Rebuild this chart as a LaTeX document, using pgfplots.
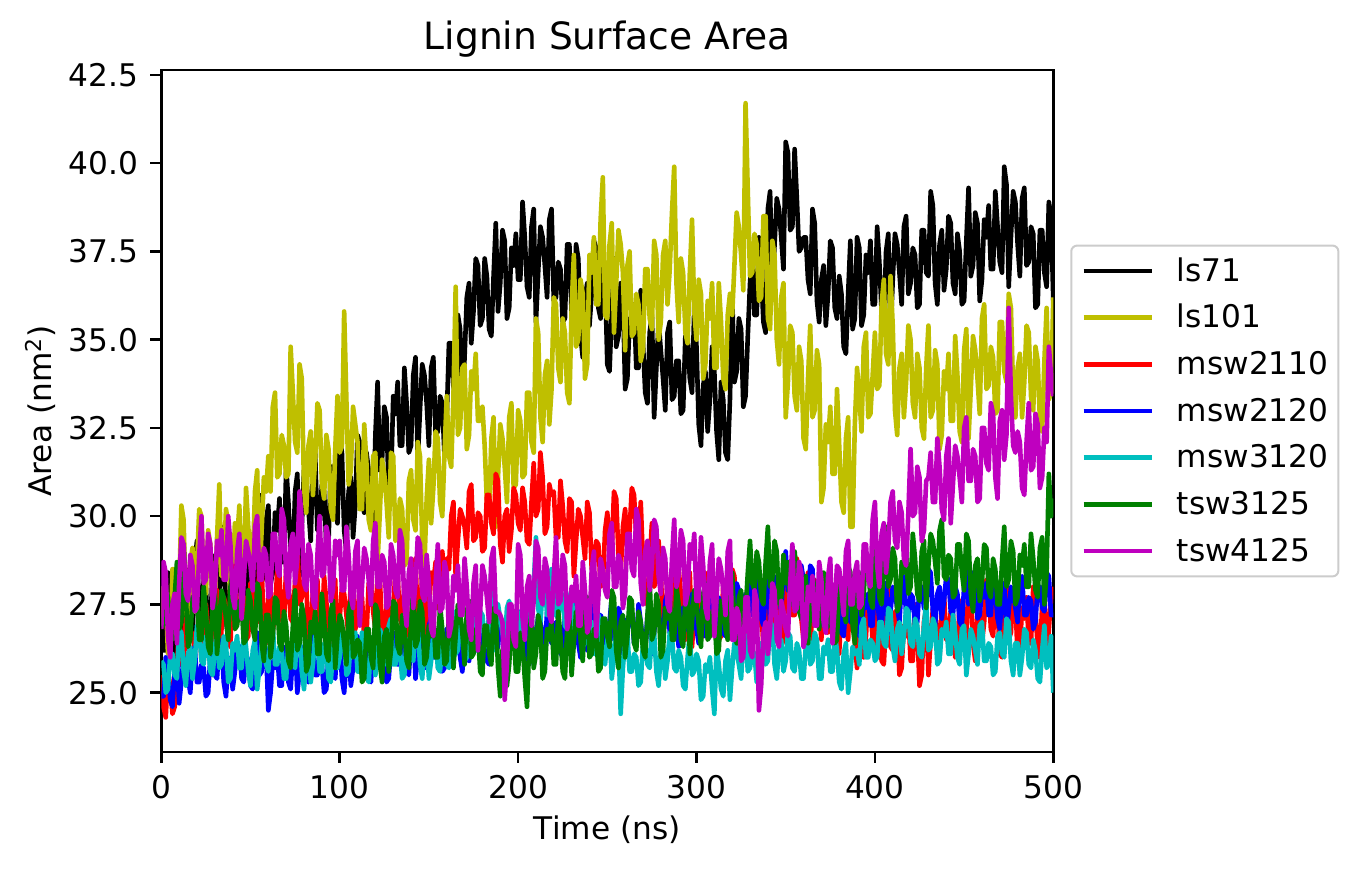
\documentclass[border=0pt]{standalone}
\usepackage{pgfplots}
\pgfplotsset{compat=1.18}
\usepackage{pgfplotstable}
\usepackage{fontspec}
\setmainfont{DejaVu Sans}
\definecolor{mplk}{rgb}{0,0,0}
\definecolor{mply}{rgb}{0.75,0.75,0}
\definecolor{mplr}{rgb}{1,0,0}
\definecolor{mplb}{rgb}{0,0,1}
\definecolor{mplc}{rgb}{0,0.75,0.75}
\definecolor{mplg}{rgb}{0,0.5,0}
\definecolor{mplm}{rgb}{0.75,0,0.75}
\newcommand\tf{\fontsize{15.6}{18.7}\selectfont}
\newcommand\ttl{\fontsize{18.8}{22.5}\selectfont}

% samples every 1.25 ns, t = 0 ... 500
% ls71
\pgfplotstableread[row sep=\\]{y\\
28.0\\26.2\\26.2\\28.4\\27.4\\26.0\\25.7\\27.7\\28.7\\25.8\\27.2\\28.5\\28.2\\27.4\\26.5\\28.7\\29.3\\27.1\\27.2\\28.2\\
28.0\\26.5\\26.6\\28.7\\28.9\\27.7\\27.3\\29.7\\29.3\\27.1\\26.5\\28.2\\28.9\\27.2\\28.1\\29.6\\29.4\\27.7\\27.4\\29.1\\
29.1\\27.6\\27.4\\29.1\\30.6\\28.1\\28.4\\29.9\\30.3\\28.1\\28.4\\30.1\\29.6\\30.5\\28.7\\28.7\\31.4\\30.4\\29.0\\28.7\\
30.7\\31.2\\28.3\\29.7\\31.3\\31.0\\30.2\\29.3\\31.5\\31.8\\29.6\\29.7\\30.9\\30.7\\29.2\\29.3\\31.4\\31.4\\30.2\\29.8\\
32.2\\31.8\\29.6\\29.0\\30.7\\31.1\\29.4\\30.3\\32.3\\32.1\\30.4\\30.1\\31.8\\31.3\\29.8\\29.6\\32.3\\33.8\\31.3\\31.6\\
33.1\\32.8\\30.6\\30.9\\33.4\\32.9\\33.8\\32.0\\32.0\\34.2\\33.2\\31.8\\32.0\\34.0\\34.5\\31.6\\33.0\\34.3\\34.0\\33.2\\
32.0\\34.2\\34.5\\32.3\\32.4\\33.4\\33.2\\31.7\\32.8\\34.9\\34.9\\33.7\\33.3\\35.7\\35.3\\33.1\\34.5\\36.2\\36.6\\34.9\\
35.8\\37.3\\37.1\\35.4\\35.6\\37.3\\36.8\\35.3\\35.1\\36.8\\38.3\\35.8\\36.6\\38.1\\37.8\\35.6\\35.9\\37.6\\37.1\\38.0\\
36.7\\36.7\\38.9\\37.9\\36.5\\36.2\\38.2\\38.7\\35.5\\36.9\\38.2\\37.9\\37.1\\36.2\\38.4\\38.7\\36.1\\36.2\\37.2\\37.0\\
35.5\\35.6\\37.7\\37.7\\35.7\\35.3\\37.7\\37.3\\35.1\\34.5\\36.2\\36.6\\35.4\\36.3\\37.8\\37.6\\35.9\\35.6\\37.3\\36.8\\
34.3\\34.1\\35.8\\37.3\\34.8\\35.1\\36.6\\36.3\\33.6\\33.9\\35.6\\35.1\\36.0\\34.2\\34.2\\36.4\\34.9\\33.5\\33.2\\35.2\\
35.7\\32.8\\34.2\\35.5\\34.7\\33.9\\33.0\\35.2\\35.5\\33.3\\33.4\\34.4\\34.4\\32.9\\33.0\\35.1\\35.1\\33.9\\33.5\\35.9\\
34.8\\32.6\\32.0\\33.7\\34.1\\32.4\\33.3\\34.8\\34.1\\32.4\\31.6\\33.8\\33.3\\31.8\\31.6\\33.3\\36.3\\33.8\\34.1\\35.6\\
35.3\\33.1\\33.4\\35.1\\36.6\\37.5\\35.7\\35.7\\37.9\\36.9\\35.5\\35.2\\38.7\\39.2\\36.3\\37.7\\39.0\\38.7\\37.9\\37.0\\
40.6\\40.3\\38.1\\38.2\\40.4\\39.0\\37.5\\37.6\\37.9\\37.9\\36.7\\36.3\\38.7\\38.3\\36.1\\35.5\\36.7\\37.1\\35.4\\36.3\\
37.8\\37.6\\35.9\\35.6\\36.8\\36.3\\34.8\\34.6\\36.3\\37.8\\35.3\\35.6\\37.9\\37.6\\35.4\\35.7\\37.4\\36.9\\37.8\\36.0\\
36.0\\38.2\\37.2\\35.8\\35.5\\37.5\\38.0\\35.1\\36.7\\38.0\\37.7\\36.9\\36.0\\38.2\\38.5\\36.3\\36.6\\37.6\\37.4\\35.9\\
36.0\\38.1\\38.1\\36.9\\36.8\\39.2\\38.8\\36.6\\36.0\\37.7\\38.1\\36.4\\37.0\\38.5\\38.3\\36.6\\36.3\\38.0\\37.5\\36.0\\
36.1\\37.8\\39.3\\36.8\\37.1\\38.6\\38.3\\36.1\\36.7\\38.4\\37.9\\38.8\\37.0\\37.0\\39.2\\38.2\\37.2\\36.9\\39.9\\39.4\\
36.5\\37.9\\39.2\\38.9\\37.7\\36.8\\39.0\\39.3\\37.1\\37.2\\38.2\\38.0\\35.9\\36.0\\38.1\\38.1\\36.9\\36.5\\38.9\\38.5\\
36.1\\}\tblk

% ls101
\pgfplotstableread[row sep=\\]{y\\
26.9\\28.0\\27.7\\26.1\\26.2\\28.5\\28.5\\27.1\\27.8\\30.3\\29.9\\27.5\\26.8\\28.7\\29.1\\27.3\\28.6\\30.2\\30.0\\28.2\\
27.8\\29.6\\29.2\\27.5\\27.4\\29.4\\30.9\\28.3\\28.5\\30.2\\29.8\\27.4\\28.0\\29.8\\29.3\\30.3\\28.4\\28.4\\30.8\\29.7\\
28.9\\28.6\\30.7\\31.3\\28.2\\29.6\\31.1\\30.7\\31.7\\30.7\\33.1\\33.5\\31.1\\31.2\\32.3\\32.0\\31.1\\31.2\\34.8\\33.5\\
32.1\\31.8\\34.3\\33.9\\30.8\\30.1\\32.0\\32.4\\30.6\\31.6\\33.2\\33.0\\30.9\\30.5\\32.3\\31.9\\30.2\\29.9\\31.9\\33.4\\
31.8\\32.0\\35.8\\33.3\\30.9\\31.3\\33.1\\32.6\\32.1\\30.2\\30.2\\32.6\\31.5\\29.9\\29.6\\31.7\\31.8\\28.7\\30.1\\31.6\\
31.2\\30.4\\29.4\\31.8\\31.7\\29.3\\29.4\\30.5\\30.2\\28.6\\28.7\\31.0\\31.3\\29.9\\29.6\\32.1\\31.7\\29.3\\28.6\\30.5\\
31.6\\29.8\\30.8\\32.4\\32.2\\30.4\\30.0\\31.8\\33.4\\31.7\\31.4\\33.4\\36.5\\32.3\\32.5\\34.2\\34.3\\31.9\\32.3\\34.1\\
33.6\\34.6\\32.7\\32.7\\33.1\\32.0\\30.4\\30.1\\32.2\\32.8\\29.7\\31.1\\32.6\\32.2\\31.4\\30.4\\32.8\\33.2\\30.8\\30.9\\
33.0\\32.7\\31.1\\31.2\\33.5\\33.5\\32.1\\31.8\\35.6\\35.2\\32.8\\32.1\\34.0\\34.4\\32.6\\33.6\\36.2\\36.0\\34.2\\33.8\\
35.6\\35.2\\33.5\\33.2\\35.9\\37.4\\34.8\\35.0\\36.7\\36.3\\33.9\\34.3\\37.4\\36.9\\37.9\\36.0\\36.0\\38.4\\39.6\\35.7\\
35.6\\37.7\\38.3\\35.2\\36.6\\38.1\\37.7\\36.9\\34.7\\37.1\\37.5\\35.1\\35.2\\36.3\\36.0\\34.4\\34.7\\37.0\\37.0\\35.6\\
35.3\\37.8\\37.4\\35.0\\35.5\\37.4\\37.8\\36.0\\37.0\\38.6\\39.9\\36.6\\35.5\\37.3\\36.9\\35.2\\34.9\\36.9\\38.4\\35.8\\
35.0\\36.7\\36.3\\33.9\\34.3\\36.1\\35.6\\36.6\\34.2\\34.2\\36.6\\35.5\\33.9\\33.6\\35.7\\36.3\\35.7\\37.1\\38.6\\38.2\\
37.4\\36.4\\41.7\\39.2\\36.8\\36.9\\38.0\\37.7\\36.1\\36.2\\38.5\\38.5\\35.6\\35.3\\37.8\\37.4\\35.0\\34.3\\36.2\\36.6\\
32.8\\33.8\\35.4\\35.2\\33.4\\33.0\\34.8\\34.4\\32.2\\31.9\\33.9\\35.4\\32.8\\33.0\\34.7\\34.3\\30.4\\30.8\\32.6\\32.1\\
33.1\\31.2\\31.2\\33.6\\32.0\\30.4\\30.1\\32.2\\32.8\\29.7\\29.7\\32.6\\34.2\\33.4\\32.4\\34.8\\35.2\\32.8\\32.9\\34.0\\
35.2\\33.6\\33.7\\36.0\\36.7\\34.6\\34.3\\36.8\\35.4\\33.0\\32.3\\34.2\\34.6\\32.8\\33.8\\35.4\\35.0\\33.2\\32.8\\34.6\\
34.2\\32.5\\32.2\\34.2\\35.4\\32.8\\33.0\\34.7\\34.3\\31.9\\32.3\\34.1\\33.6\\34.6\\32.7\\32.7\\35.1\\34.0\\32.4\\32.1\\
34.7\\35.3\\32.2\\33.6\\35.1\\34.7\\33.9\\32.9\\35.6\\36.0\\33.6\\33.7\\34.8\\34.5\\32.9\\33.0\\35.5\\35.5\\34.1\\33.8\\
36.3\\35.9\\33.5\\32.8\\34.2\\34.6\\32.8\\33.8\\35.4\\35.2\\33.4\\33.0\\34.8\\34.4\\32.7\\32.4\\34.4\\35.9\\33.3\\33.5\\
36.2\\}\tyel

% msw2110
\pgfplotstableread[row sep=\\]{y\\
25.5\\24.6\\24.3\\25.6\\25.2\\24.4\\24.6\\25.2\\27.6\\25.8\\26.0\\27.1\\26.9\\25.3\\25.5\\26.7\\26.6\\27.2\\25.9\\25.9\\
27.5\\26.8\\25.8\\25.5\\27.5\\27.9\\25.8\\26.8\\27.7\\27.5\\26.9\\26.3\\28.4\\28.6\\27.0\\27.1\\27.8\\27.7\\26.5\\26.6\\
28.1\\28.1\\27.3\\27.0\\28.7\\28.5\\26.9\\26.4\\27.7\\27.9\\26.7\\27.3\\28.5\\28.3\\27.1\\26.9\\28.6\\28.2\\27.1\\27.0\\
28.2\\29.3\\27.5\\27.7\\28.3\\28.1\\26.5\\26.7\\27.9\\27.6\\28.2\\26.9\\26.7\\28.3\\27.6\\26.6\\26.3\\27.8\\28.2\\26.1\\
27.1\\28.0\\27.8\\27.2\\26.6\\28.2\\28.4\\26.8\\27.1\\27.8\\27.7\\26.5\\26.6\\28.1\\28.1\\27.3\\26.8\\28.5\\28.3\\26.7\\
26.2\\27.5\\27.7\\26.5\\27.3\\28.5\\28.3\\27.1\\26.9\\28.1\\27.7\\26.6\\26.5\\27.7\\28.8\\27.0\\27.2\\28.3\\28.1\\26.5\\
27.2\\28.4\\28.1\\28.7\\27.4\\27.4\\29.0\\28.3\\28.8\\28.5\\30.0\\30.4\\28.3\\29.3\\30.2\\30.0\\29.7\\29.1\\30.7\\30.9\\
29.3\\29.4\\30.1\\30.0\\29.0\\29.1\\30.6\\30.6\\29.8\\29.5\\31.2\\31.0\\29.2\\28.7\\30.0\\30.2\\29.0\\29.6\\30.8\\30.6\\
29.8\\29.6\\30.8\\30.4\\29.3\\29.2\\30.4\\31.5\\30.0\\30.2\\31.8\\31.1\\29.5\\29.7\\30.9\\30.6\\30.7\\29.4\\29.4\\31.0\\
30.3\\29.3\\29.0\\30.5\\30.4\\28.3\\29.3\\30.2\\30.0\\29.4\\28.8\\30.4\\30.1\\28.5\\28.6\\29.3\\29.2\\28.0\\28.1\\29.6\\
30.1\\29.3\\29.0\\30.7\\30.5\\28.9\\28.4\\29.7\\30.2\\29.0\\29.6\\30.8\\30.6\\29.4\\29.2\\30.4\\28.7\\27.6\\27.5\\28.7\\
29.8\\28.0\\28.2\\29.3\\28.4\\26.8\\27.0\\28.2\\27.9\\28.5\\27.2\\27.2\\28.5\\27.8\\26.8\\26.5\\28.0\\28.4\\26.3\\27.3\\
28.0\\27.8\\27.2\\26.6\\28.2\\28.4\\26.8\\26.9\\27.8\\27.7\\26.5\\26.6\\28.1\\28.1\\27.3\\27.0\\28.5\\28.3\\26.7\\26.2\\
27.5\\27.7\\26.5\\27.1\\28.2\\28.0\\26.8\\26.6\\27.8\\27.4\\26.3\\26.2\\27.5\\28.6\\26.8\\27.0\\28.1\\27.9\\26.3\\26.5\\
28.2\\27.9\\28.5\\27.2\\27.2\\28.8\\28.1\\27.1\\26.5\\28.0\\28.4\\26.3\\27.3\\28.2\\28.0\\27.4\\26.5\\28.1\\28.3\\26.7\\
26.8\\27.5\\27.4\\26.2\\26.1\\27.6\\27.6\\26.8\\26.5\\28.2\\28.0\\26.4\\25.7\\27.0\\27.2\\26.0\\26.6\\27.8\\27.6\\26.4\\
26.2\\27.4\\27.0\\25.9\\25.8\\27.0\\28.1\\26.3\\26.2\\27.3\\27.1\\25.5\\25.7\\26.9\\26.6\\27.2\\25.9\\25.9\\27.5\\26.8\\
25.2\\25.5\\27.0\\27.4\\25.5\\26.5\\27.4\\27.2\\26.6\\26.0\\27.6\\27.8\\26.5\\26.6\\27.3\\27.2\\26.0\\26.1\\27.6\\27.6\\
26.8\\26.5\\28.2\\28.0\\26.4\\25.9\\27.2\\27.4\\26.4\\27.0\\28.2\\28.0\\26.8\\26.6\\27.8\\27.4\\26.1\\26.0\\27.2\\28.3\\
26.5\\26.7\\27.8\\27.6\\26.0\\26.2\\27.4\\27.1\\27.7\\26.4\\26.4\\28.0\\27.3\\26.3\\26.0\\27.5\\27.9\\25.8\\26.8\\27.7\\
28.0\\}\tred

% msw2120
\pgfplotstableread[row sep=\\]{y\\
24.9\\24.9\\26.0\\25.5\\24.8\\24.6\\25.6\\25.9\\24.7\\25.3\\26.0\\25.8\\25.4\\25.0\\26.1\\26.3\\25.3\\25.3\\25.8\\25.7\\
24.9\\25.0\\26.0\\26.0\\25.5\\25.4\\26.5\\26.4\\25.3\\24.9\\25.8\\26.0\\25.1\\25.6\\26.4\\26.3\\25.4\\25.3\\26.1\\25.9\\
25.2\\25.1\\26.0\\26.7\\25.5\\25.6\\26.4\\26.2\\24.5\\25.0\\25.9\\25.7\\26.1\\25.2\\25.2\\26.3\\26.0\\25.3\\25.1\\26.1\\
26.4\\25.0\\25.6\\26.3\\26.1\\25.7\\25.3\\26.4\\26.6\\25.5\\25.5\\26.0\\25.8\\25.0\\25.1\\26.1\\26.1\\25.5\\25.4\\26.5\\
26.5\\25.4\\25.0\\25.9\\26.1\\25.2\\25.7\\26.5\\26.6\\25.7\\25.6\\26.4\\26.2\\25.4\\25.3\\26.2\\26.9\\25.7\\25.8\\26.6\\
26.4\\25.3\\25.4\\26.3\\26.3\\26.7\\25.8\\25.8\\26.9\\26.4\\25.7\\25.5\\26.5\\26.8\\25.4\\26.0\\26.7\\26.5\\26.1\\25.7\\
26.9\\27.1\\26.0\\26.0\\26.5\\26.4\\25.6\\25.7\\26.8\\26.8\\26.2\\26.1\\27.2\\27.1\\26.0\\25.6\\26.6\\26.8\\25.9\\26.4\\
27.2\\27.1\\26.2\\26.1\\26.9\\26.7\\25.9\\25.8\\26.7\\27.4\\26.2\\26.3\\27.1\\26.9\\25.8\\25.9\\26.8\\26.6\\27.0\\26.1\\
26.2\\27.3\\26.8\\26.1\\25.9\\26.9\\27.2\\25.8\\26.5\\27.2\\27.0\\26.6\\26.2\\27.3\\27.5\\26.4\\26.5\\27.0\\26.9\\26.1\\
26.2\\27.2\\27.2\\26.6\\26.5\\27.6\\27.5\\26.4\\26.0\\26.9\\27.1\\26.2\\26.7\\27.5\\27.4\\26.5\\26.4\\27.2\\27.0\\26.2\\
26.1\\27.0\\27.7\\26.5\\26.6\\27.4\\27.2\\26.1\\26.2\\27.1\\26.9\\27.3\\26.4\\26.4\\27.5\\27.0\\26.4\\26.2\\27.2\\27.5\\
26.1\\26.7\\27.4\\27.2\\26.9\\26.5\\27.6\\27.8\\26.7\\26.7\\27.2\\27.1\\26.3\\26.4\\27.4\\27.4\\26.8\\26.7\\27.8\\27.7\\
26.8\\26.4\\27.3\\27.5\\26.6\\27.1\\27.9\\27.8\\27.0\\26.9\\27.7\\27.5\\26.7\\26.6\\27.5\\28.2\\27.2\\27.3\\28.1\\27.9\\
26.8\\26.9\\27.8\\27.6\\28.1\\27.2\\27.2\\28.3\\27.8\\27.1\\26.9\\27.9\\28.4\\27.0\\27.6\\28.3\\28.1\\27.7\\27.3\\28.4\\
29.0\\27.9\\27.9\\28.4\\28.3\\27.5\\27.6\\28.6\\28.2\\27.6\\27.5\\28.6\\28.5\\27.4\\27.0\\27.9\\27.8\\26.9\\27.4\\28.2\\
28.1\\27.2\\27.1\\27.9\\27.5\\26.7\\26.6\\27.5\\28.2\\27.0\\27.1\\27.9\\27.7\\26.6\\26.7\\27.6\\27.4\\27.8\\26.9\\26.9\\
28.2\\27.7\\27.0\\26.8\\27.8\\28.1\\26.7\\27.3\\28.0\\27.8\\27.4\\27.0\\28.1\\28.3\\27.2\\27.2\\27.8\\27.7\\26.9\\27.0\\
28.0\\28.0\\27.4\\27.3\\28.5\\28.4\\27.3\\26.9\\27.8\\28.0\\27.1\\27.6\\28.3\\28.2\\27.3\\27.2\\28.0\\27.8\\27.0\\26.9\\
28.0\\28.7\\27.5\\27.6\\28.4\\28.2\\27.1\\27.2\\27.9\\27.7\\28.1\\27.2\\27.2\\28.3\\27.8\\27.1\\26.8\\27.8\\28.1\\26.7\\
27.3\\28.0\\27.8\\27.4\\27.0\\28.1\\28.3\\27.2\\27.2\\27.7\\27.6\\26.8\\27.0\\28.0\\28.0\\27.4\\27.3\\28.4\\28.3\\27.2\\
27.2\\}\tblu

% msw3120
\pgfplotstableread[row sep=\\]{y\\
25.9\\25.8\\25.0\\25.1\\26.1\\26.1\\25.5\\25.4\\26.8\\26.7\\25.6\\25.2\\26.1\\26.3\\25.4\\25.9\\26.9\\26.8\\25.9\\25.8\\
26.6\\26.4\\25.6\\25.5\\26.2\\26.9\\25.7\\25.8\\26.6\\26.4\\25.3\\25.4\\26.4\\26.2\\26.6\\25.7\\25.7\\26.8\\26.3\\25.6\\
25.2\\26.2\\26.5\\25.1\\25.7\\26.4\\26.2\\25.8\\25.6\\26.7\\26.9\\25.8\\25.8\\26.3\\26.2\\25.4\\25.4\\26.4\\26.4\\25.8\\
25.7\\26.8\\26.7\\25.6\\25.1\\26.0\\26.2\\25.3\\25.8\\26.6\\26.5\\25.6\\25.6\\26.4\\26.2\\25.4\\25.3\\26.2\\26.9\\25.7\\
26.0\\26.8\\26.6\\25.5\\25.6\\26.5\\26.3\\26.7\\25.6\\25.6\\26.7\\26.2\\25.5\\25.3\\26.3\\26.6\\25.5\\26.1\\26.8\\26.6\\
26.2\\25.8\\26.9\\27.1\\25.8\\25.8\\26.3\\26.2\\25.4\\25.5\\26.5\\26.5\\26.0\\25.9\\27.0\\26.9\\25.8\\25.4\\26.3\\26.5\\
25.4\\25.9\\26.7\\26.6\\25.7\\25.6\\26.4\\26.2\\25.8\\25.7\\26.6\\27.3\\26.1\\26.2\\27.0\\26.8\\25.9\\26.0\\26.9\\26.7\\
27.1\\26.2\\26.2\\27.3\\27.2\\26.5\\26.3\\27.3\\28.4\\26.2\\26.8\\27.5\\27.1\\26.7\\26.3\\27.4\\27.6\\26.5\\26.5\\27.0\\
27.3\\26.5\\26.6\\27.6\\27.6\\27.0\\26.9\\28.0\\29.4\\27.4\\27.0\\27.9\\28.1\\27.2\\27.7\\28.5\\28.1\\27.2\\27.1\\27.9\\
27.7\\26.9\\26.8\\27.7\\27.9\\26.7\\26.8\\27.6\\27.4\\26.3\\26.4\\27.3\\26.6\\27.0\\26.1\\26.1\\27.2\\26.7\\26.0\\25.8\\
26.5\\26.8\\25.4\\26.0\\26.7\\26.5\\24.4\\25.7\\26.5\\26.7\\25.6\\25.6\\26.1\\26.0\\25.2\\25.3\\26.4\\26.4\\25.8\\25.7\\
26.8\\26.7\\25.6\\25.2\\26.1\\26.3\\25.4\\25.9\\26.7\\26.6\\25.7\\25.6\\26.2\\26.0\\25.2\\25.1\\26.0\\26.7\\25.5\\25.6\\
26.1\\25.9\\24.8\\24.9\\25.8\\25.6\\26.0\\25.1\\24.4\\26.3\\25.8\\25.1\\24.9\\25.9\\26.2\\24.8\\25.7\\26.4\\26.2\\25.8\\
25.4\\26.5\\26.7\\25.6\\25.7\\26.2\\26.1\\25.3\\25.4\\26.4\\26.4\\25.8\\25.9\\27.0\\26.9\\25.8\\25.4\\26.3\\26.5\\25.6\\
25.9\\26.7\\26.6\\25.7\\25.6\\26.4\\26.2\\25.4\\25.4\\26.3\\27.0\\25.8\\25.9\\26.7\\26.5\\25.4\\25.4\\26.3\\26.1\\26.5\\
25.6\\25.6\\26.7\\26.2\\25.3\\25.1\\26.1\\26.4\\25.0\\25.6\\26.3\\26.1\\26.2\\25.8\\26.9\\27.1\\26.0\\26.0\\26.5\\26.4\\
25.9\\26.0\\27.0\\27.0\\26.4\\26.3\\27.4\\27.3\\26.3\\25.9\\26.8\\27.0\\26.1\\26.6\\27.4\\27.3\\26.4\\26.3\\27.1\\26.9\\
26.1\\26.0\\26.9\\27.6\\26.2\\26.3\\27.1\\26.9\\25.8\\25.9\\26.8\\26.6\\27.0\\26.1\\26.1\\27.2\\26.7\\26.0\\25.8\\26.8\\
26.9\\25.5\\26.1\\26.8\\26.6\\26.2\\25.8\\26.9\\27.0\\25.9\\25.9\\26.4\\26.3\\25.5\\25.6\\26.6\\26.7\\26.1\\26.0\\27.1\\
27.0\\25.9\\25.5\\26.4\\26.4\\25.5\\26.0\\26.8\\26.7\\25.8\\25.7\\26.5\\26.2\\25.4\\25.3\\26.2\\26.9\\25.7\\25.8\\26.6\\
25.0\\}\tcya

% tsw3125
\pgfplotstableread[row sep=\\]{y\\
27.1\\26.9\\28.0\\27.7\\26.7\\26.5\\27.7\\28.7\\26.8\\27.0\\29.2\\27.8\\26.3\\26.5\\27.7\\27.4\\27.7\\26.5\\26.5\\28.0\\
27.3\\26.3\\26.1\\27.5\\28.0\\26.1\\27.0\\27.9\\27.7\\27.1\\26.5\\28.0\\28.4\\26.8\\26.9\\27.6\\27.5\\26.4\\26.5\\27.9\\
27.6\\26.8\\26.5\\28.1\\27.9\\26.4\\25.9\\27.2\\27.2\\26.0\\26.6\\27.7\\27.6\\26.4\\26.2\\27.3\\26.9\\25.9\\25.7\\26.9\\
27.9\\26.2\\26.4\\27.5\\27.1\\25.6\\25.8\\27.0\\26.7\\27.3\\26.1\\26.1\\27.8\\27.1\\26.1\\25.9\\27.3\\27.6\\25.7\\26.6\\
27.2\\27.0\\26.4\\25.8\\27.3\\27.6\\26.0\\26.1\\26.5\\26.4\\25.3\\25.4\\26.8\\26.8\\26.0\\25.7\\27.5\\27.3\\25.8\\25.3\\
26.6\\26.8\\25.6\\26.2\\27.6\\27.5\\26.3\\26.1\\27.2\\26.9\\25.9\\25.7\\27.0\\28.0\\26.3\\26.5\\27.6\\27.3\\25.8\\26.0\\
26.9\\26.6\\27.2\\26.0\\26.0\\27.5\\26.8\\25.8\\25.9\\27.3\\27.6\\25.7\\26.6\\27.5\\27.3\\26.7\\25.8\\27.3\\27.6\\26.0\\
26.1\\26.8\\26.7\\25.6\\25.5\\26.9\\26.9\\26.1\\25.8\\27.4\\27.2\\25.7\\24.9\\26.2\\26.4\\25.2\\25.8\\26.9\\26.8\\25.6\\
25.6\\26.7\\26.4\\25.4\\24.6\\26.4\\27.4\\25.7\\26.1\\27.2\\26.9\\25.4\\25.6\\26.8\\26.5\\27.1\\25.8\\25.8\\27.3\\26.6\\
25.6\\25.4\\26.8\\27.1\\25.5\\26.4\\27.3\\27.1\\26.5\\25.9\\27.4\\27.7\\26.0\\26.1\\26.8\\26.7\\25.6\\25.7\\27.1\\27.1\\
26.6\\26.3\\27.9\\27.7\\26.2\\25.7\\27.0\\27.2\\26.0\\26.6\\27.7\\27.6\\26.4\\26.2\\27.3\\27.0\\26.2\\26.0\\27.2\\28.2\\
26.5\\26.7\\27.8\\27.5\\26.0\\26.2\\27.4\\27.1\\27.7\\26.5\\26.5\\28.0\\27.5\\26.5\\26.3\\27.7\\28.0\\26.1\\27.0\\27.9\\
27.5\\26.9\\26.3\\27.8\\28.1\\26.5\\26.6\\27.3\\27.2\\26.1\\26.2\\27.6\\27.6\\26.8\\26.5\\28.1\\28.4\\26.9\\26.4\\27.7\\
27.9\\26.7\\27.3\\28.4\\29.3\\28.1\\27.9\\29.0\\28.7\\27.7\\27.5\\28.7\\29.7\\28.0\\28.2\\29.3\\29.0\\27.5\\27.7\\28.9\\
28.1\\28.7\\27.5\\27.5\\29.0\\28.3\\27.3\\27.1\\28.0\\28.3\\26.4\\27.3\\28.2\\28.0\\27.4\\26.8\\28.1\\28.4\\26.8\\26.9\\
27.6\\27.5\\26.4\\26.5\\28.1\\28.1\\27.3\\27.0\\28.6\\28.4\\26.9\\26.4\\28.2\\28.4\\27.2\\27.8\\28.9\\28.8\\27.6\\27.4\\
29.0\\28.7\\27.7\\27.5\\28.7\\29.7\\28.0\\28.2\\29.1\\28.8\\27.3\\27.5\\28.7\\28.4\\29.0\\27.8\\28.0\\29.5\\28.8\\27.8\\
27.6\\29.0\\29.3\\27.4\\28.6\\29.5\\29.3\\28.7\\28.1\\29.6\\29.9\\28.3\\28.2\\28.9\\28.8\\27.7\\27.8\\29.2\\29.2\\28.4\\
27.9\\29.5\\29.3\\27.8\\27.3\\28.6\\28.8\\27.6\\28.1\\29.2\\29.1\\27.9\\27.7\\28.8\\28.5\\27.5\\27.5\\28.7\\29.7\\28.0\\
28.2\\29.3\\29.0\\27.5\\27.7\\28.9\\28.6\\29.2\\28.0\\28.0\\29.5\\28.8\\27.9\\27.7\\29.1\\29.4\\27.5\\28.4\\31.2\\30.0\\
30.5\\}\tgre

% tsw4125
\pgfplotstableread[row sep=\\]{y\\
26.8\\28.7\\28.4\\26.6\\26.0\\27.5\\27.8\\26.4\\28.1\\29.4\\29.2\\27.8\\27.6\\28.9\\28.6\\27.3\\27.4\\28.9\\30.0\\28.1\\
28.2\\29.5\\29.2\\27.4\\27.9\\29.3\\28.9\\29.6\\28.2\\28.2\\30.0\\29.2\\27.7\\27.4\\29.0\\29.5\\27.1\\28.2\\29.3\\29.0\\
28.6\\27.9\\29.7\\30.0\\28.2\\28.2\\29.1\\28.9\\27.7\\27.8\\29.5\\29.5\\28.5\\28.3\\30.2\\29.9\\28.3\\27.7\\29.2\\29.5\\
28.1\\28.8\\30.7\\29.9\\28.1\\27.9\\29.2\\28.9\\27.6\\27.4\\28.9\\30.0\\28.3\\28.4\\29.7\\29.4\\27.6\\27.9\\29.3\\28.9\\
29.3\\27.9\\27.9\\29.7\\28.9\\27.7\\27.4\\29.0\\29.3\\26.9\\28.0\\29.1\\28.8\\28.2\\27.5\\29.3\\29.8\\28.0\\28.0\\28.9\\
28.7\\27.4\\27.5\\29.2\\28.9\\27.9\\27.7\\29.6\\29.3\\27.5\\26.9\\28.4\\28.8\\27.4\\28.1\\29.4\\29.2\\27.8\\27.6\\28.9\\
28.1\\26.8\\26.6\\28.1\\29.2\\27.3\\27.4\\28.7\\28.4\\26.6\\26.9\\28.3\\27.9\\28.6\\27.2\\27.2\\28.8\\28.0\\26.8\\26.5\\
28.1\\28.6\\26.2\\27.3\\28.6\\28.3\\27.7\\27.0\\28.8\\29.1\\27.3\\27.3\\27.2\\27.0\\24.8\\25.8\\27.5\\27.5\\26.5\\26.3\\
29.2\\28.9\\27.1\\26.5\\28.0\\28.3\\26.9\\27.6\\29.3\\29.1\\27.7\\27.5\\28.8\\28.5\\27.2\\27.0\\28.3\\29.4\\27.5\\27.6\\
28.9\\28.6\\26.8\\27.1\\28.0\\27.6\\28.3\\26.9\\26.9\\28.7\\27.9\\26.7\\26.9\\28.5\\29.0\\26.6\\27.7\\28.8\\28.5\\27.9\\
27.7\\29.5\\29.8\\28.0\\28.0\\28.9\\28.7\\27.4\\27.8\\29.5\\29.5\\28.5\\28.3\\30.2\\29.9\\28.1\\27.5\\29.0\\29.3\\27.9\\
28.6\\29.9\\29.7\\28.3\\27.8\\29.1\\28.8\\27.5\\27.3\\28.8\\29.9\\28.0\\28.3\\29.6\\29.3\\27.5\\27.8\\29.2\\28.8\\29.5\\
27.6\\27.6\\29.4\\28.6\\27.4\\27.1\\28.7\\29.2\\26.6\\27.7\\28.8\\28.5\\27.9\\27.2\\29.0\\29.3\\26.5\\26.5\\27.4\\27.2\\
25.9\\26.0\\27.7\\27.7\\26.2\\26.0\\27.9\\27.6\\24.5\\25.2\\26.7\\27.0\\26.1\\26.8\\28.1\\27.9\\26.5\\26.3\\27.6\\27.3\\
26.8\\26.6\\28.1\\29.2\\27.3\\27.4\\28.7\\28.4\\26.3\\26.6\\28.0\\27.6\\28.3\\26.9\\26.9\\28.7\\28.2\\27.0\\26.7\\28.3\\
28.8\\26.4\\27.5\\28.6\\28.5\\27.9\\27.2\\29.0\\29.3\\27.5\\27.5\\28.4\\28.7\\27.4\\27.5\\29.2\\29.2\\28.2\\28.0\\29.9\\
30.4\\28.6\\28.0\\29.5\\29.8\\28.4\\29.1\\30.4\\30.7\\29.3\\29.1\\30.4\\30.1\\28.8\\28.6\\30.1\\31.9\\30.0\\30.1\\31.4\\
31.1\\29.3\\29.6\\31.0\\31.1\\31.8\\30.4\\30.4\\32.2\\31.4\\30.2\\29.9\\31.7\\32.2\\29.8\\30.9\\32.0\\31.7\\31.1\\30.4\\
32.5\\32.8\\31.0\\31.0\\31.9\\31.7\\30.4\\30.5\\32.5\\32.5\\31.5\\31.3\\33.2\\32.9\\31.1\\30.5\\32.7\\33.0\\31.6\\32.3\\
35.9\\33.4\\32.0\\31.8\\32.4\\32.1\\30.8\\30.6\\32.1\\33.2\\31.3\\31.4\\32.9\\32.6\\30.8\\31.1\\32.5\\32.1\\34.8\\34.0\\
33.4\\}\tmag

\begin{document}
\begin{tikzpicture}
\useasboundingbox (-80.65pt,-59pt) rectangle (598.35pt,376pt);
\begin{axis}[
  at={(0pt,0pt)}, anchor=south west,
  scale only axis, width=446pt, height=341pt,
  xmin=0, xmax=500, ymin=23.32, ymax=42.64,
  xtick={0,100,...,500}, ytick={25,27.5,...,42.5},
  tick pos=left, tick align=outside, major tick length=5.5pt,
  tick style={black, line width=1.25pt},
  axis line style={line width=1.25pt},
  ticklabel style={font=\tf, inner sep=0pt},
  /pgf/number format/assume math mode=true,
  yticklabel style={/pgf/number format/.cd, fixed, fixed zerofill, precision=1},
  xticklabel shift=6pt, yticklabel shift=6pt,
  title={Lignin Surface Area},
  title style={font=\ttl, at={(axis description cs:0.5,1.013)}, anchor=base},
  xlabel={Time (ns)},
  xlabel style={font=\tf, at={(axis description cs:0.5,-0.114)}, anchor=center},
  ylabel={Area (nm\textsuperscript{2})},
  ylabel style={font=\tf, at={(axis description cs:-0.1357,0.5)}, anchor=center},
  no markers,
  legend style={at={(axis description cs:1.019,0.5)}, anchor=west, font=\tf,
    draw=black!20, line width=1pt, rounded corners=3pt,
    inner xsep=5pt, inner ysep=1pt, row sep=0pt, column sep=11.5pt,
    nodes={inner sep=0pt, minimum height=23.35pt}},
  legend cell align=left,
  legend image code/.code={\draw[#1] (0pt,0pt) -- (34pt,0pt);},
  every axis plot/.append style={line width=2.3pt, line join=round},
]
\addplot[mplk] table[x expr=\coordindex*1.25, y=y]{\tblk};
\addplot[mply] table[x expr=\coordindex*1.25, y=y]{\tyel};
\addplot[mplr] table[x expr=\coordindex*1.25, y=y]{\tred};
\addplot[mplb] table[x expr=\coordindex*1.25, y=y]{\tblu};
\addplot[mplc] table[x expr=\coordindex*1.25, y=y]{\tcya};
\addplot[mplg] table[x expr=\coordindex*1.25, y=y]{\tgre};
\addplot[mplm] table[x expr=\coordindex*1.25, y=y]{\tmag};
\legend{ls71,ls101,msw2110,msw2120,msw3120,tsw3125,tsw4125}
\end{axis}
\end{tikzpicture}
\end{document}
